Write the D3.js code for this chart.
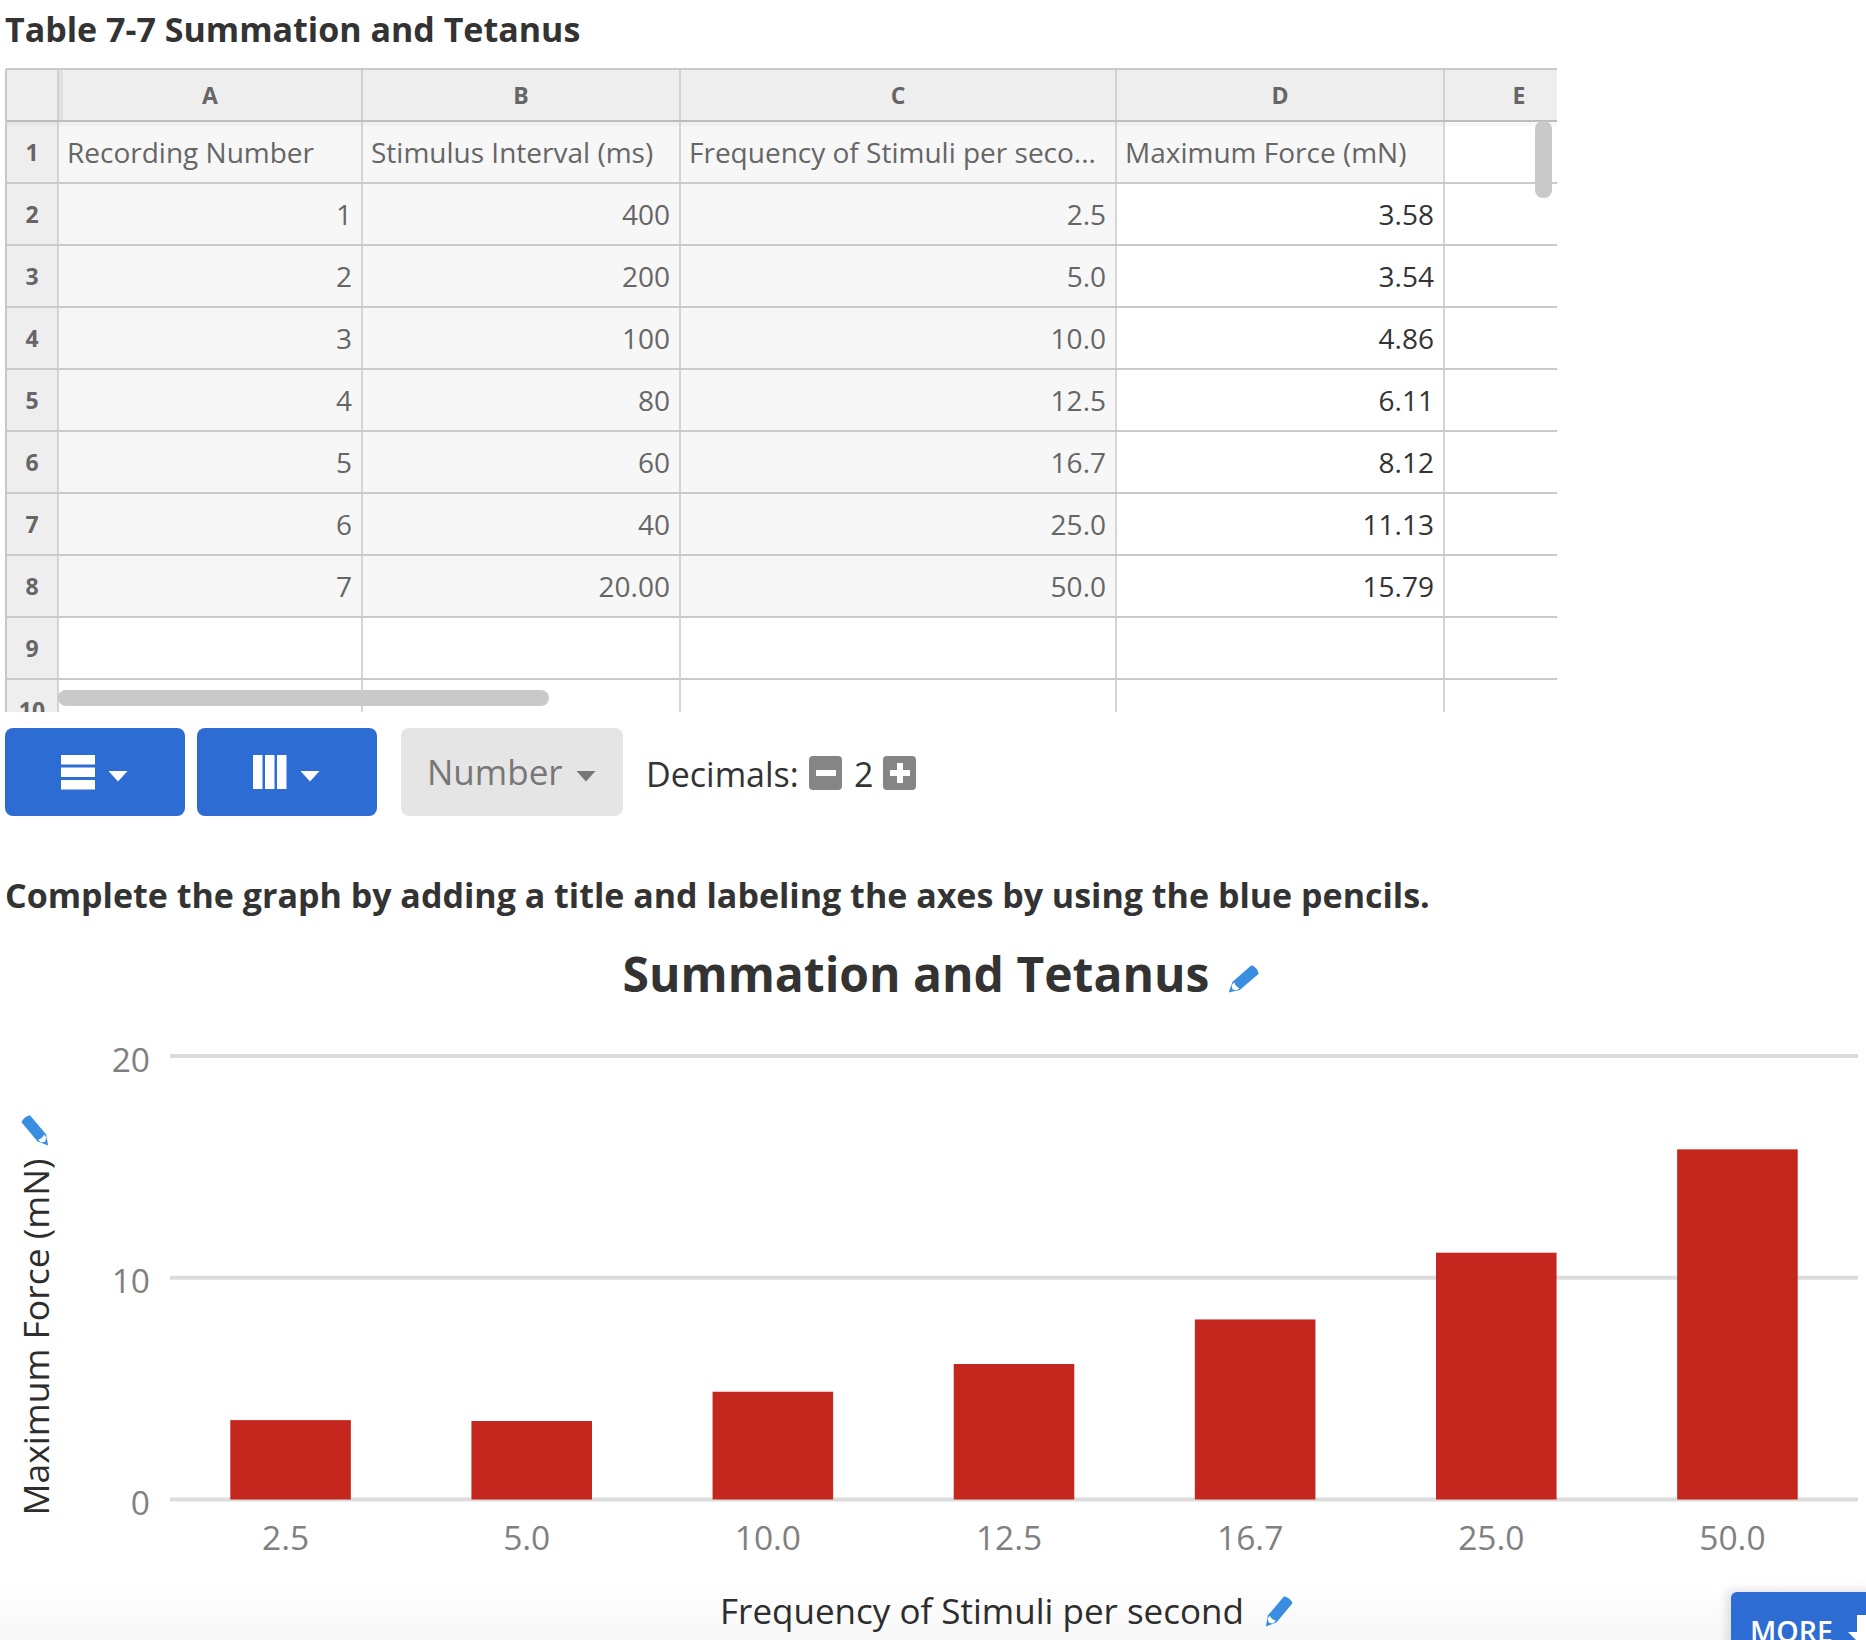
<!DOCTYPE html>
<html>
<head>
	<title>Summation and Tetanus</title>
	<script type="text/javascript" src="https://d3js.org/d3.v7.min.js"></script>
	<style type="text/css">
		html, body { margin: 0; padding: 0; background: #fff; overflow: hidden; }
		svg { display: block; }
		text { font-family: "Open Sans", sans-serif; }
		.axis path, .axis line { display: none; }
		.axis text { font-family: "Open Sans", sans-serif; font-size: 33.5px; fill: #808080; }
	</style>
</head>
<body>
	<script type="text/javascript">
		// table contents
		var column_letters = ["A", "B", "C", "D", "E"];
		var row_numbers = ["1", "2", "3", "4", "5", "6", "7", "8", "9", "10"];
		var column_heads = ["Recording Number", "Stimulus Interval (ms)", "Frequency of Stimuli per seco...", "Maximum Force (mN)"];
		var recording = ["1", "2", "3", "4", "5", "6", "7"];
		var interval = ["400", "200", "100", "80", "60", "40", "20.00"];

		// chart values
		var frequency = ["2.5", "5.0", "10.0", "12.5", "16.7", "25.0", "50.0"];
		var max_force = [3.58, 3.54, 4.86, 6.11, 8.12, 11.13, 15.79];
		var y_ticks = [0, 10, 20];

		var width = 1866, height = 1640;
		var svg = d3.select("body").append("svg")
			.attr("width", width)
			.attr("height", height);

		var defs = svg.append("defs");
		defs.append("clipPath").attr("id", "table-clip")
			.append("rect").attr("x", 0).attr("y", 60).attr("width", 1557).attr("height", 652);
		var fade = defs.append("linearGradient").attr("id", "fade")
			.attr("x1", 0).attr("y1", 0).attr("x2", 0).attr("y2", 1);
		fade.append("stop").attr("offset", 0).attr("stop-color", "#fff");
		fade.append("stop").attr("offset", 1).attr("stop-color", "#f7f7f7");
		var shadow = defs.append("filter").attr("id", "soft")
			.attr("x", "-20%").attr("y", "-20%").attr("width", "140%").attr("height", "140%");
		shadow.append("feGaussianBlur").attr("stdDeviation", 5);

		svg.append("text").attr("x", 5).attr("y", 42)
			.attr("font-size", 34).attr("font-weight", 700).attr("fill", "#333")
			.text("Table 7-7 Summation and Tetanus");

		// ---- table ----
		var col_x = [58, 362, 680, 1116, 1444, 1557];
		var row_top = 121, row_h = 62, head_top = 69;
		var table = svg.append("g").attr("clip-path", "url(#table-clip)");

		function cellFill(r, c){
			if (r == 0) { return c < 4 ? "#f7f7f7" : "#fff"; }
			if (r <= 7 && c < 3) { return "#f7f7f7"; }
			return "#fff";
		}

		// cell backgrounds
		row_numbers.forEach(function(n, r){
			column_letters.forEach(function(l, c){
				table.append("rect")
					.attr("x", col_x[c]).attr("y", row_top + r * row_h)
					.attr("width", col_x[c + 1] - col_x[c]).attr("height", row_h)
					.attr("fill", cellFill(r, c));
			});
		});

		// header strips
		table.append("rect").attr("x", 6).attr("y", head_top).attr("width", 1551).attr("height", 52).attr("fill", "#eeeeee");
		table.append("rect").attr("x", 6).attr("y", head_top).attr("width", 52).attr("height", 660).attr("fill", "#eeeeee");

		// faint shadow beside the frozen header
		table.append("rect").attr("x", 59).attr("y", head_top).attr("width", 4).attr("height", 52).attr("fill", "#000").attr("opacity", 0.05);
		table.append("rect").attr("x", 6).attr("y", 122).attr("width", 1551).attr("height", 4).attr("fill", "#000").attr("opacity", 0.03);

		// grid lines
		col_x.slice(0, 5).forEach(function(x){
			table.append("line").attr("x1", x).attr("x2", x).attr("y1", head_top).attr("y2", 712)
				.attr("stroke", "#c8c8c8").attr("stroke-width", 1.5);
		});
		row_numbers.forEach(function(n, r){
			table.append("line").attr("x1", 6).attr("x2", 1557)
				.attr("y1", row_top + r * row_h).attr("y2", row_top + r * row_h)
				.attr("stroke", r == 0 ? "#bdbdbd" : "#cacaca").attr("stroke-width", 2);
		});
		table.append("line").attr("x1", 6).attr("x2", 1557).attr("y1", head_top).attr("y2", head_top)
			.attr("stroke", "#cacaca").attr("stroke-width", 2);
		table.append("line").attr("x1", 6).attr("x2", 6).attr("y1", head_top).attr("y2", 712)
			.attr("stroke", "#c8c8c8").attr("stroke-width", 2);

		// letters and row numbers
		column_letters.forEach(function(l, c){
			var cx = c == 4 ? 1519 : (col_x[c] + col_x[c + 1]) / 2;
			table.append("text").attr("x", cx).attr("y", 104).attr("text-anchor", "middle")
				.attr("font-size", 23).attr("font-weight", 700).attr("fill", "#666").text(l);
		});
		row_numbers.forEach(function(n, r){
			table.append("text").attr("x", 32).attr("y", row_top + r * row_h + 40).attr("text-anchor", "middle")
				.attr("font-size", 23).attr("font-weight", 700).attr("fill", "#666").text(n);
		});

		function cellText(c, r, str, color){
			table.append("text")
				.attr("x", r == 0 ? col_x[c] + 9 : col_x[c + 1] - 10)
				.attr("y", row_top + r * row_h + 42)
				.attr("text-anchor", r == 0 ? "start" : "end")
				.attr("font-size", 28).attr("fill", color).text(str);
		}
		column_heads.forEach(function(h, c){ cellText(c, 0, h, "#666"); });
		recording.forEach(function(v, i){ cellText(0, i + 1, v, "#666"); });
		interval.forEach(function(v, i){ cellText(1, i + 1, v, "#666"); });
		frequency.forEach(function(v, i){ cellText(2, i + 1, v, "#666"); });
		max_force.forEach(function(v, i){ cellText(3, i + 1, v.toFixed(2), "#333"); });

		// scrollbars
		svg.append("rect").attr("x", 1535).attr("y", 121).attr("width", 17).attr("height", 77).attr("rx", 8).attr("fill", "#c9c9c9");
		svg.append("rect").attr("x", 58).attr("y", 690).attr("width", 491).attr("height", 16).attr("rx", 8).attr("fill", "#c9c9c9");

		// ---- toolbar ----
		function button(x, w, fill){
			svg.append("rect").attr("x", x).attr("y", 728).attr("width", w).attr("height", 88).attr("rx", 8).attr("fill", fill);
		}
		function caret(cx, cy, w, fill){
			svg.append("path").attr("d", d3.line()([[cx - w / 2, cy], [cx + w / 2, cy], [cx, cy + w * 0.55]]) + "Z").attr("fill", fill);
		}
		button(5, 180, "#2d6cd2");
		button(197, 180, "#2d6cd2");
		button(401, 222, "#e5e5e5");

		[755, 767.5, 780].forEach(function(y){
			svg.append("rect").attr("x", 61).attr("y", y).attr("width", 34).attr("height", 9.5).attr("fill", "#fff");
		});
		caret(118, 771, 19, "#fff");
		[253, 265, 277].forEach(function(x){
			svg.append("rect").attr("x", x).attr("y", 755).attr("width", 9.5).attr("height", 34).attr("fill", "#fff");
		});
		caret(310, 771, 19, "#fff");

		svg.append("text").attr("x", 427).attr("y", 785).attr("font-size", 35).attr("fill", "#777").text("Number");
		caret(586, 771, 19, "#777");
		svg.append("text").attr("x", 646).attr("y", 787).attr("font-size", 34).attr("fill", "#333").text("Decimals:");
		svg.append("rect").attr("x", 809).attr("y", 756).attr("width", 33).attr("height", 34).attr("rx", 4).attr("fill", "#858585");
		svg.append("rect").attr("x", 816).attr("y", 770).attr("width", 20).attr("height", 6).attr("fill", "#fff");
		svg.append("text").attr("x", 854).attr("y", 787).attr("font-size", 34).attr("fill", "#333").text("2");
		svg.append("rect").attr("x", 883).attr("y", 756).attr("width", 33).attr("height", 34).attr("rx", 4).attr("fill", "#858585");
		svg.append("rect").attr("x", 890).attr("y", 770).attr("width", 20).attr("height", 6).attr("fill", "#fff");
		svg.append("rect").attr("x", 897).attr("y", 763).attr("width", 6).attr("height", 20).attr("fill", "#fff");

		svg.append("text").attr("x", 5).attr("y", 908)
			.attr("font-size", 34).attr("font-weight", 700).attr("fill", "#333")
			.text("Complete the graph by adding a title and labeling the axes by using the blue pencils.");

		// ---- chart ----
		var xScale = d3.scaleBand().domain(frequency).range([170, 1858]).paddingInner(0.5).paddingOuter(0.25);
		var yScale = d3.scaleLinear().domain([0, 20]).range([1499.5, 1056]);

		svg.append("rect").attr("x", 0).attr("y", 1585).attr("width", width).attr("height", 55).attr("fill", "url(#fade)");

		svg.append("g").selectAll("line").data(y_ticks).enter().append("line")
			.attr("x1", 170).attr("x2", 1858)
			.attr("y1", function(d){ return yScale(d); })
			.attr("y2", function(d){ return yScale(d); })
			.attr("stroke", "#dcdcdc").attr("stroke-width", 4);

		svg.selectAll("rect.bar").data(max_force).enter().append("rect")
			.attr("class", "bar")
			.attr("x", function(d, i){ return xScale(frequency[i]); })
			.attr("y", function(d){ return yScale(d); })
			.attr("width", xScale.bandwidth())
			.attr("height", function(d){ return yScale(0) - yScale(d); })
			.attr("fill", "#c4271d");

		var xaxis = d3.axisBottom(xScale).tickSize(0).tickPadding(0);
		svg.append("g").attr("class", "axis").attr("transform", "translate(0, 1499.5)").call(xaxis)
			.selectAll("text").attr("dx", -5).attr("dy", 18).attr("y", 32);

		var yaxis = d3.axisLeft(yScale).tickValues(y_ticks).tickSize(0).tickPadding(0);
		svg.append("g").attr("class", "axis").attr("transform", "translate(150, 0)").call(yaxis)
			.selectAll("text").attr("dy", 15);

		svg.append("text").attr("x", 916).attr("y", 992).attr("text-anchor", "middle")
			.attr("font-size", 48).attr("font-weight", 700).attr("fill", "#333").text("Summation and Tetanus");
		svg.append("text").attr("x", 982).attr("y", 1624).attr("text-anchor", "middle")
			.attr("font-size", 35).attr("fill", "#2d2d2d").text("Frequency of Stimuli per second");
		svg.append("text").attr("transform", "translate(49, 1337) rotate(-90)").attr("text-anchor", "middle")
			.attr("font-size", 35.5).attr("fill", "#2d2d2d").text("Maximum Force (mN)");

		// blue pencils, tip at +x before rotating
		function pencil(x, y, angle){
			var g = svg.append("g").attr("transform", "translate(" + x + "," + y + ") rotate(" + angle + ")");
			g.append("path").attr("d", "M-16,-5.5 L9,-5.5 L19,0 L9,5.5 L-16,5.5 Q-19,0 -16,-5.5Z").attr("fill", "#3a8ee0");
			g.append("path").attr("d", "M8,-4 L12,-3.5 L14,0 L12,3.5 L8,4 Q10,0 8,-4Z").attr("fill", "#fff");
		}
		pencil(1243, 980, 139);
		pencil(1278, 1612, 130);
		pencil(36, 1131, 50);

		// more button
		svg.append("rect").attr("x", 1727).attr("y", 1590).attr("width", 150).attr("height", 70).attr("rx", 6)
			.attr("fill", "#999").attr("opacity", 0.3).attr("filter", "url(#soft)");
		svg.append("rect").attr("x", 1731).attr("y", 1592).attr("width", 145).attr("height", 60).attr("rx", 6).attr("fill", "#2d6cd2");
		svg.append("text").attr("x", 1750).attr("y", 1642).attr("font-size", 28.5).attr("font-weight", 600).attr("fill", "#fff").text("MORE");
		svg.append("path").attr("d", "M1857,1615 h12 v18 h-12Z M1848,1632 h28 l-14,14Z").attr("fill", "#fff");
	</script>
</body>
</html>
